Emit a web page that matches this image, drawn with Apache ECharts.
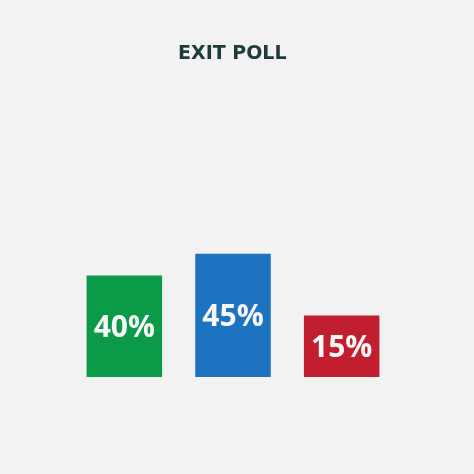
<!DOCTYPE html>
<html>
<head>
<meta charset="utf-8">
<script src="https://cdn.jsdelivr.net/npm/echarts@6/dist/echarts.min.js"></script>
<style>
html,body{margin:0;padding:0;background:#f2f2f2;}
#chart{width:474px;height:474px;}
</style>
</head>
<body>
<div id="chart"></div>
<script>
// Data
var categories = ['A', 'B', 'C'];
var shareLabels = [40, 45, 15];          // percentages printed on the bars
var drawnHeights = [37, 45, 22.4];       // bar heights as drawn in the picture (not proportional to the labels)
var barColors = ['#0b9a47', '#1e73c0', '#c11f2f'];
var titleText = 'EXIT POLL';

var chart = echarts.init(document.getElementById('chart'));
chart.setOption({
  backgroundColor: '#f2f2f2',
  animation: false,
  title: {
    text: titleText,
    left: 173,
    top: 40,
    textStyle: {
      fontFamily: '"DejaVu Sans", sans-serif',
      fontWeight: 'bold',
      fontSize: 19,
      color: '#1e3a3a'
    }
  },
  grid: { left: 70, right: 78, top: 103, bottom: 97 },
  xAxis: {
    type: 'category',
    data: categories,
    show: false
  },
  yAxis: {
    type: 'value',
    min: 0,
    max: 100,
    show: false
  },
  series: [{
    type: 'bar',
    barWidth: 75.5,
    data: drawnHeights.map(function (h, i) {
      return { value: h, itemStyle: { color: barColors[i] } };
    }),
    label: {
      show: true,
      position: 'inside',
      offset: [0, 2],
      formatter: function (p) { return shareLabels[p.dataIndex] + '%'; },
      color: '#f7f7f7',
      fontFamily: '"Open Sans", sans-serif',
      fontWeight: 'bold',
      fontSize: 30
    }
  }]
});
</script>
</body>
</html>
